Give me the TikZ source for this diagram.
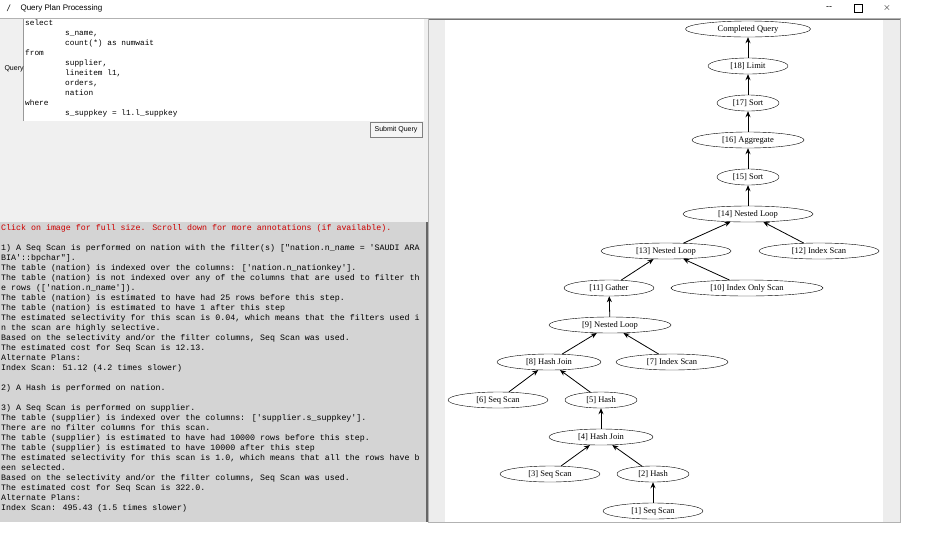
\documentclass[tikz,border=0pt]{standalone}
\usepackage{fontspec}
\setmainfont{Liberation Serif}
\newfontfamily\mono{Liberation Mono}
\newfontfamily\ui{Liberation Sans}
\usetikzlibrary{shapes.geometric,arrows.meta}
\begin{document}
\begin{tikzpicture}[x=1pt,y=-1pt,
  op/.style={draw,ellipse,inner sep=0pt,minimum height=16pt,font=\fontsize{8.5}{9}\selectfont},
  edge/.style={-{Stealth[length=6pt,width=5pt]},thick},
  mtext/.style={anchor=north west,inner sep=0pt,align=left,font=\mono\fontsize{8.3}{10}\selectfont}]
\useasboundingbox (0,0) rectangle (936,542);
\fill[white] (0,0) rectangle (936,542);
% title bar
\node[anchor=west,font=\ui\fontsize{8}{9}\selectfont] (title) at (17,8) {Query Plan Processing};
\node[font=\ui\fontsize{9}{9}\selectfont] (ic) at (9,8) {\textit{/}};
\node[font=\ui\fontsize{9}{9}\selectfont] (mn) at (829,8) {--};
\draw (854,4) rectangle (862,12);
\node[font=\ui\fontsize{10}{10}\selectfont] (cl) at (887,8) {$\times$};
\draw[black!30] (0,18) -- (428,18);
% left panel
\fill[black!6] (0,18.5) rectangle (428,222);
\fill[white] (23,19) rectangle (424,121);
\draw[black!40] (23,19) -- (23,121);
\node[anchor=west,font=\ui\fontsize{7}{8}\selectfont] (ql) at (1,69) {Query};
\node[mtext,font=\mono\fontsize{7.8}{10}\selectfont] (q) at (25,20) {select\\
\hspace*{40pt}s\_name,\\
\hspace*{40pt}count(*) as numwait\\
from\\
\hspace*{40pt}supplier,\\
\hspace*{40pt}lineitem l1,\\
\hspace*{40pt}orders,\\
\hspace*{40pt}nation\\
where\\
\hspace*{40pt}s\_suppkey = l1.l\_suppkey};
\node[draw=black!50,fill=black!4,font=\ui\fontsize{7}{8}\selectfont,minimum width=52pt,minimum height=15pt] (sb) at (396,130) {Submit Query};
\fill[black!17] (0,222) rectangle (426,522);
\draw[black!60,line width=1.5pt] (427,222) -- (427,522);
\node[mtext,text=red!80!black] (hint) at (1,224) {Click on image for full size. Scroll down for more annotations (if available).};
\node[mtext] (ann) at (1,244) {1) A Seq Scan is performed on nation with the filter(s) ["nation.n\_name = 'SAUDI ARA\\
BIA'::bpchar"].\\
The table (nation) is indexed over the columns: ['nation.n\_nationkey'].\\
The table (nation) is not indexed over any of the columns that are used to filter th\\
e rows (['nation.n\_name']).\\
The table (nation) is estimated to have had 25 rows before this step.\\
The table (nation) is estimated to have 1 after this step\\
The estimated selectivity for this scan is 0.04, which means that the filters used i\\
n the scan are highly selective.\\
Based on the selectivity and/or the filter columns, Seq Scan was used.\\
The estimated cost for Seq Scan is 12.13.\\
Alternate Plans:\\
Index Scan: 51.12 (4.2 times slower)\\
\\
2) A Hash is performed on nation.\\
\\
3) A Seq Scan is performed on supplier.\\
The table (supplier) is indexed over the columns: ['supplier.s\_suppkey'].\\
There are no filter columns for this scan.\\
The table (supplier) is estimated to have had 10000 rows before this step.\\
The table (supplier) is estimated to have 10000 after this step\\
The estimated selectivity for this scan is 1.0, which means that all the rows have b\\
een selected.\\
Based on the selectivity and/or the filter columns, Seq Scan was used.\\
The estimated cost for Seq Scan is 322.0.\\
Alternate Plans:\\
Index Scan: 495.43 (1.5 times slower)};
% right panel
\fill[black!7] (428,18) rectangle (445,522);
\fill[black!7] (883,18) rectangle (900,522);
\draw[black!55,line width=1.5pt] (428.5,18.5) -- (428.5,522) (428.5,19) -- (900,19);
\draw[black!30] (428,18) rectangle (900,522);
\fill[white] (445,20.5) rectangle (883,520);
% tree
\node[op,minimum width=125pt] (n0) at (748,29) {Completed Query};
\node[op,minimum width=80pt] (n18) at (748,66) {[18] Limit};
\node[op,minimum width=62pt] (n17) at (748,103) {[17] Sort};
\node[op,minimum width=112pt] (n16) at (748,140) {[16] Aggregate};
\node[op,minimum width=62pt] (n15) at (748,177) {[15] Sort};
\node[op,minimum width=130pt] (n14) at (748,214) {[14] Nested Loop};
\node[op,minimum width=130pt] (n13) at (666,251) {[13] Nested Loop};
\node[op,minimum width=120pt] (n12) at (819,251) {[12] Index Scan};
\node[op,minimum width=90pt] (n11) at (609,288) {[11] Gather};
\node[op,minimum width=152pt] (n10) at (747,288) {[10] Index Only Scan};
\node[op,minimum width=122pt] (n9) at (610,325) {[9] Nested Loop};
\node[op,minimum width=104pt] (n8) at (549,362) {[8] Hash Join};
\node[op,minimum width=112pt] (n7) at (672,362) {[7] Index Scan};
\node[op,minimum width=100pt] (n6) at (498,400) {[6] Seq Scan};
\node[op,minimum width=72pt] (n5) at (601,400) {[5] Hash};
\node[op,minimum width=104pt] (n4) at (601,437) {[4] Hash Join};
\node[op,minimum width=100pt] (n3) at (550,474) {[3] Seq Scan};
\node[op,minimum width=72pt] (n2) at (653,474) {[2] Hash};
\node[op,minimum width=100pt] (n1) at (653,511) {[1] Seq Scan};
\foreach \c/\p in {n18/n0,n17/n18,n16/n17,n15/n16,n14/n15,n13/n14,n12/n14,n11/n13,n10/n13,n9/n11,n8/n9,n7/n9,n6/n8,n5/n8,n4/n5,n3/n4,n2/n4,n1/n2}
  \draw[edge] (\c) -- (\p);
\end{tikzpicture}
\end{document}
